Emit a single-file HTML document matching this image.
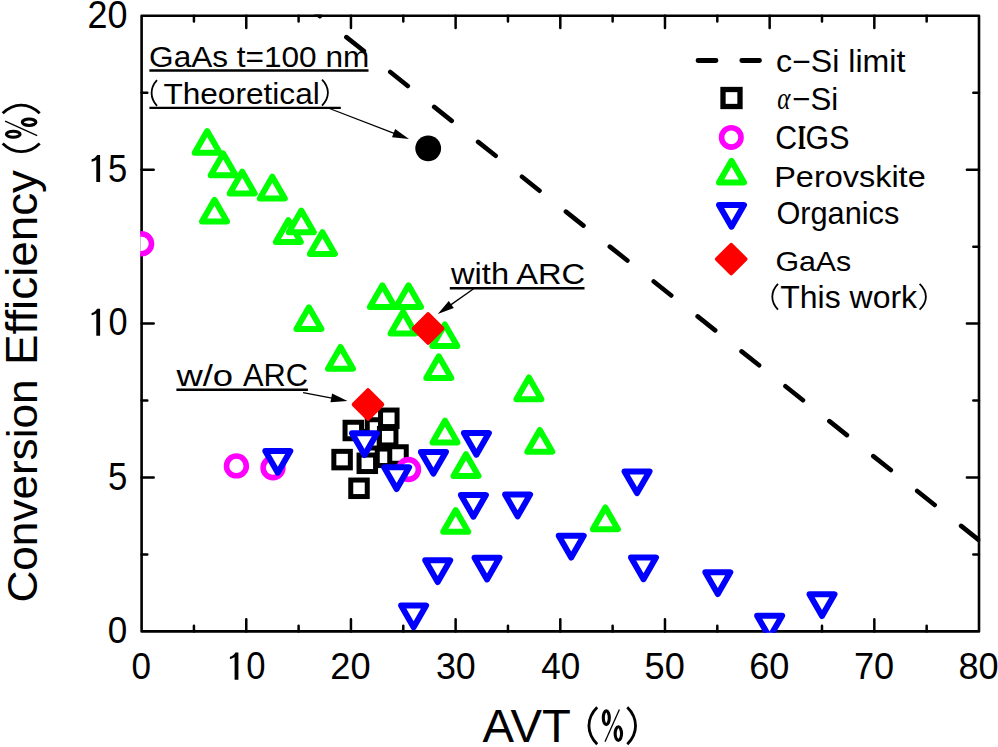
<!DOCTYPE html><html><head><meta charset="utf-8"><style>html,body{margin:0;padding:0;background:#fff;}svg{display:block}text{font-family:"Liberation Sans",sans-serif;fill:#000}</style></head><body>
<svg width="998" height="747" viewBox="0 0 998 747">
<defs><clipPath id="pc"><rect x="140.3" y="14.5" width="840" height="618.2"/></clipPath></defs>
<rect x="141.6" y="15.8" width="837.40" height="615.60" fill="none" stroke="#000" stroke-width="2.6" stroke-linejoin="round"/>
<path d="M193.94 631.4V625.70M193.94 15.8V21.50M246.27 631.4V619.30M246.27 15.8V27.90M298.61 631.4V625.70M298.61 15.8V21.50M350.95 631.4V619.30M350.95 15.8V27.90M403.29 631.4V625.70M403.29 15.8V21.50M455.62 631.4V619.30M455.62 15.8V27.90M507.96 631.4V625.70M507.96 15.8V21.50M560.30 631.4V619.30M560.30 15.8V27.90M612.64 631.4V625.70M612.64 15.8V21.50M664.98 631.4V619.30M664.98 15.8V27.90M717.31 631.4V625.70M717.31 15.8V21.50M769.65 631.4V619.30M769.65 15.8V27.90M821.99 631.4V625.70M821.99 15.8V21.50M874.33 631.4V619.30M874.33 15.8V27.90M926.66 631.4V625.70M926.66 15.8V21.50M141.6 554.45H147.30M979.0 554.45H973.30M141.6 477.50H153.70M979.0 477.50H966.90M141.6 400.55H147.30M979.0 400.55H973.30M141.6 323.60H153.70M979.0 323.60H966.90M141.6 246.65H147.30M979.0 246.65H973.30M141.6 169.70H153.70M979.0 169.70H966.90M141.6 92.75H147.30M979.0 92.75H973.30" stroke="#000" stroke-width="2.5" stroke-linecap="round" fill="none"/>
<g clip-path="url(#pc)"><path d="M258.55 -32.75L1000.00 556.85" stroke="#000" stroke-width="4.6" stroke-linecap="round" stroke-dasharray="22.40 33.70" fill="none"/></g>
<g clip-path="url(#pc)">
<rect x="362.75" y="431.50" width="16.5" height="16.5" fill="#fff" stroke="#000" stroke-width="5.0"/>
<rect x="377.25" y="449.05" width="16.5" height="16.5" fill="#fff" stroke="#000" stroke-width="5.0"/>
<rect x="367.25" y="419.75" width="16.5" height="16.5" fill="#fff" stroke="#000" stroke-width="5.0"/>
<rect x="345.05" y="422.25" width="16.5" height="16.5" fill="#fff" stroke="#000" stroke-width="5.0"/>
<rect x="380.55" y="410.05" width="16.5" height="16.5" fill="#fff" stroke="#000" stroke-width="5.0"/>
<rect x="379.45" y="428.45" width="16.5" height="16.5" fill="#fff" stroke="#000" stroke-width="5.0"/>
<rect x="389.75" y="446.75" width="16.5" height="16.5" fill="#fff" stroke="#000" stroke-width="5.0"/>
<rect x="333.85" y="451.35" width="16.5" height="16.5" fill="#fff" stroke="#000" stroke-width="5.0"/>
<rect x="359.05" y="455.05" width="16.5" height="16.5" fill="#fff" stroke="#000" stroke-width="5.0"/>
<rect x="350.75" y="480.05" width="16.5" height="16.5" fill="#fff" stroke="#000" stroke-width="5.0"/>
<circle cx="141.60" cy="243.80" r="9.9" fill="#fff" stroke="#ff00ff" stroke-width="5.6"/>
<circle cx="236.40" cy="465.90" r="9.9" fill="#fff" stroke="#ff00ff" stroke-width="5.6"/>
<circle cx="273.00" cy="467.70" r="9.9" fill="#fff" stroke="#ff00ff" stroke-width="5.6"/>
<circle cx="408.50" cy="469.50" r="9.9" fill="#fff" stroke="#ff00ff" stroke-width="5.6"/>
<path d="M207.20 131.10L219.70 152.80L194.70 152.80Z" fill="#fff" stroke="#00ff00" stroke-width="6.0" stroke-linejoin="round"/>
<path d="M223.20 153.50L235.70 175.20L210.70 175.20Z" fill="#fff" stroke="#00ff00" stroke-width="6.0" stroke-linejoin="round"/>
<path d="M242.20 171.70L254.70 193.40L229.70 193.40Z" fill="#fff" stroke="#00ff00" stroke-width="6.0" stroke-linejoin="round"/>
<path d="M272.30 176.70L284.80 198.40L259.80 198.40Z" fill="#fff" stroke="#00ff00" stroke-width="6.0" stroke-linejoin="round"/>
<path d="M214.50 199.80L227.00 221.50L202.00 221.50Z" fill="#fff" stroke="#00ff00" stroke-width="6.0" stroke-linejoin="round"/>
<path d="M288.30 220.20L300.80 241.90L275.80 241.90Z" fill="#fff" stroke="#00ff00" stroke-width="6.0" stroke-linejoin="round"/>
<path d="M301.30 210.60L313.80 232.30L288.80 232.30Z" fill="#fff" stroke="#00ff00" stroke-width="6.0" stroke-linejoin="round"/>
<path d="M322.40 232.20L334.90 253.90L309.90 253.90Z" fill="#fff" stroke="#00ff00" stroke-width="6.0" stroke-linejoin="round"/>
<path d="M308.90 307.30L321.40 329.00L296.40 329.00Z" fill="#fff" stroke="#00ff00" stroke-width="6.0" stroke-linejoin="round"/>
<path d="M340.50 347.00L353.00 368.70L328.00 368.70Z" fill="#fff" stroke="#00ff00" stroke-width="6.0" stroke-linejoin="round"/>
<path d="M382.40 285.30L394.90 307.00L369.90 307.00Z" fill="#fff" stroke="#00ff00" stroke-width="6.0" stroke-linejoin="round"/>
<path d="M408.50 285.30L421.00 307.00L396.00 307.00Z" fill="#fff" stroke="#00ff00" stroke-width="6.0" stroke-linejoin="round"/>
<path d="M403.10 311.80L415.60 333.50L390.60 333.50Z" fill="#fff" stroke="#00ff00" stroke-width="6.0" stroke-linejoin="round"/>
<path d="M444.80 324.40L457.30 346.10L432.30 346.10Z" fill="#fff" stroke="#00ff00" stroke-width="6.0" stroke-linejoin="round"/>
<path d="M438.80 356.30L451.30 378.00L426.30 378.00Z" fill="#fff" stroke="#00ff00" stroke-width="6.0" stroke-linejoin="round"/>
<path d="M445.00 420.70L457.50 442.40L432.50 442.40Z" fill="#fff" stroke="#00ff00" stroke-width="6.0" stroke-linejoin="round"/>
<path d="M466.00 454.20L478.50 475.90L453.50 475.90Z" fill="#fff" stroke="#00ff00" stroke-width="6.0" stroke-linejoin="round"/>
<path d="M455.70 510.10L468.20 531.80L443.20 531.80Z" fill="#fff" stroke="#00ff00" stroke-width="6.0" stroke-linejoin="round"/>
<path d="M528.90 377.50L541.40 399.20L516.40 399.20Z" fill="#fff" stroke="#00ff00" stroke-width="6.0" stroke-linejoin="round"/>
<path d="M539.80 430.00L552.30 451.70L527.30 451.70Z" fill="#fff" stroke="#00ff00" stroke-width="6.0" stroke-linejoin="round"/>
<path d="M605.40 507.50L617.90 529.20L592.90 529.20Z" fill="#fff" stroke="#00ff00" stroke-width="6.0" stroke-linejoin="round"/>
<path d="M277.80 472.70L290.30 451.00L265.30 451.00Z" fill="#fff" stroke="#0000ff" stroke-width="6.0" stroke-linejoin="round"/>
<path d="M364.50 455.00L377.00 433.30L352.00 433.30Z" fill="#fff" stroke="#0000ff" stroke-width="6.0" stroke-linejoin="round"/>
<path d="M396.60 489.00L409.10 467.30L384.10 467.30Z" fill="#fff" stroke="#0000ff" stroke-width="6.0" stroke-linejoin="round"/>
<path d="M433.40 473.60L445.90 451.90L420.90 451.90Z" fill="#fff" stroke="#0000ff" stroke-width="6.0" stroke-linejoin="round"/>
<path d="M476.40 454.70L488.90 433.00L463.90 433.00Z" fill="#fff" stroke="#0000ff" stroke-width="6.0" stroke-linejoin="round"/>
<path d="M473.40 516.70L485.90 495.00L460.90 495.00Z" fill="#fff" stroke="#0000ff" stroke-width="6.0" stroke-linejoin="round"/>
<path d="M517.60 516.30L530.10 494.60L505.10 494.60Z" fill="#fff" stroke="#0000ff" stroke-width="6.0" stroke-linejoin="round"/>
<path d="M437.70 582.00L450.20 560.30L425.20 560.30Z" fill="#fff" stroke="#0000ff" stroke-width="6.0" stroke-linejoin="round"/>
<path d="M487.00 579.40L499.50 557.70L474.50 557.70Z" fill="#fff" stroke="#0000ff" stroke-width="6.0" stroke-linejoin="round"/>
<path d="M413.60 627.20L426.10 605.50L401.10 605.50Z" fill="#fff" stroke="#0000ff" stroke-width="6.0" stroke-linejoin="round"/>
<path d="M571.20 557.50L583.70 535.80L558.70 535.80Z" fill="#fff" stroke="#0000ff" stroke-width="6.0" stroke-linejoin="round"/>
<path d="M637.00 493.10L649.50 471.40L624.50 471.40Z" fill="#fff" stroke="#0000ff" stroke-width="6.0" stroke-linejoin="round"/>
<path d="M643.50 579.20L656.00 557.50L631.00 557.50Z" fill="#fff" stroke="#0000ff" stroke-width="6.0" stroke-linejoin="round"/>
<path d="M717.80 594.00L730.30 572.30L705.30 572.30Z" fill="#fff" stroke="#0000ff" stroke-width="6.0" stroke-linejoin="round"/>
<path d="M769.60 637.40L782.10 615.70L757.10 615.70Z" fill="#fff" stroke="#0000ff" stroke-width="6.0" stroke-linejoin="round"/>
<path d="M822.00 616.00L834.50 594.30L809.50 594.30Z" fill="#fff" stroke="#0000ff" stroke-width="6.0" stroke-linejoin="round"/>
<path d="M368.00 390.20L382.30 404.50L368.00 418.80L353.70 404.50Z" fill="#ff0000" stroke="#ff0000" stroke-width="4" stroke-linejoin="round"/>
<path d="M428.10 314.20L442.40 328.50L428.10 342.80L413.80 328.50Z" fill="#ff0000" stroke="#ff0000" stroke-width="4" stroke-linejoin="round"/>
<circle cx="428.2" cy="148.3" r="12.9" fill="#000"/>
</g>
<path d="M329.50 108.50L395.46 133.81" stroke="#000" stroke-width="1.3" fill="none"/><path d="M409.00 139.00L392.02 137.20L395.17 128.98Z" fill="#000"/>
<path d="M473.30 289.00L449.66 305.65" stroke="#000" stroke-width="1.3" fill="none"/><path d="M437.80 314.00L448.76 300.90L453.82 308.10Z" fill="#000"/>
<path d="M303.10 392.60L333.25 398.30" stroke="#000" stroke-width="1.3" fill="none"/><path d="M347.50 401.00L330.47 402.26L332.11 393.61Z" fill="#000"/>
<path d="M149.4 70.5H368.5M149.4 107.9H340.8M449.8 288.2H584.5M176.4 389.7H307.9" stroke="#000" stroke-width="2.4" fill="none"/>
<text id="y20" x="87.60" y="27.62" font-size="38.17" textLength="40.00" lengthAdjust="spacingAndGlyphs">20</text>
<text id="y15" x="108.10" y="181.82" font-size="38.17" textLength="19.20" lengthAdjust="spacingAndGlyphs">5</text>
<text id="y10" x="108.50" y="335.42" font-size="38.17" textLength="19.10" lengthAdjust="spacingAndGlyphs">0</text>
<text id="y5" x="108.00" y="489.52" font-size="38.17" textLength="19.30" lengthAdjust="spacingAndGlyphs">5</text>
<text id="y0" x="107.80" y="642.83" font-size="36.90" textLength="19.50" lengthAdjust="spacingAndGlyphs">0</text>
<text id="x0" x="131.60" y="679.33" font-size="37.32" textLength="19.50" lengthAdjust="spacingAndGlyphs">0</text>
<text id="x10" x="246.30" y="679.32" font-size="38.03" textLength="19.30" lengthAdjust="spacingAndGlyphs">0</text>
<text id="x20" x="330.30" y="679.32" font-size="37.61" textLength="40.30" lengthAdjust="spacingAndGlyphs">20</text>
<text id="x30" x="435.90" y="679.32" font-size="37.61" textLength="39.90" lengthAdjust="spacingAndGlyphs">30</text>
<text id="x40" x="541.20" y="679.33" font-size="37.32" textLength="39.00" lengthAdjust="spacingAndGlyphs">40</text>
<text id="x50" x="644.60" y="679.33" font-size="37.32" textLength="40.20" lengthAdjust="spacingAndGlyphs">50</text>
<text id="x60" x="749.20" y="679.33" font-size="37.32" textLength="40.20" lengthAdjust="spacingAndGlyphs">60</text>
<text id="x70" x="853.90" y="679.33" font-size="37.32" textLength="40.20" lengthAdjust="spacingAndGlyphs">70</text>
<text id="x80" x="958.50" y="679.33" font-size="37.32" textLength="40.20" lengthAdjust="spacingAndGlyphs">80</text>
<text id="avt" x="482.40" y="741.80" font-size="46.52" textLength="88.40" lengthAdjust="spacingAndGlyphs">AVT</text>
<text id="gaas1" x="149.10" y="66.50" font-size="29.36" textLength="220.20" lengthAdjust="spacingAndGlyphs">GaAs t=100 nm</text>
<text id="theo" x="163.40" y="103.70" font-size="28.88" textLength="156.40" lengthAdjust="spacingAndGlyphs">Theoretical</text>
<text id="warc" x="451.00" y="283.90" font-size="29.38" textLength="134.20" lengthAdjust="spacingAndGlyphs">with ARC</text>
<text id="woarc1" x="176.40" y="386.10" font-size="29.80" textLength="56.70" lengthAdjust="spacingAndGlyphs">w/o</text>
<text id="woarc2" x="243.00" y="386.10" font-size="30.72" textLength="65.10" lengthAdjust="spacingAndGlyphs">ARC</text>
<text id="l1" x="776.00" y="72.29" font-size="31.41" textLength="129.40" lengthAdjust="spacingAndGlyphs">c&#8722;Si limit</text>
<text id="l2" x="792.30" y="110.20" font-size="32.00" textLength="46.00" lengthAdjust="spacingAndGlyphs">&#8722;Si</text>
<text id="l2a" style="font-family:'Liberation Serif';font-style:italic" x="777.20" y="109.38" font-size="32.08" textLength="13.10" lengthAdjust="spacingAndGlyphs">&#945;</text>
<text id="l3" x="775.20" y="148.98" font-size="32.39" textLength="74.20" lengthAdjust="spacingAndGlyphs">CIGS</text>
<text id="l4" x="774.20" y="186.55" font-size="30.36" textLength="151.50" lengthAdjust="spacingAndGlyphs">Perovskite</text>
<text id="l5" x="776.40" y="223.58" font-size="30.94" textLength="122.90" lengthAdjust="spacingAndGlyphs">Organics</text>
<text id="l6" x="775.40" y="271.10" font-size="27.97" textLength="75.90" lengthAdjust="spacingAndGlyphs">GaAs</text>
<text id="l7" x="780.30" y="308.30" font-size="31.44" textLength="136.80" lengthAdjust="spacingAndGlyphs">This work</text>
<text id="ce1" x="-2.40" y="0" font-size="42.57" textLength="223.00" lengthAdjust="spacingAndGlyphs" transform="translate(36.84,600.10) rotate(-90)">Conversion</text>
<text id="ce2" x="-3.80" y="0" font-size="43.49" textLength="195.00" lengthAdjust="spacingAndGlyphs" transform="translate(36.84,361.20) rotate(-90)">Efficiency</text>
<g id="pct" fill="none" stroke="#000"><path d="M597.2 707.2C586.2 718.2 586.2 733.2 597.2 744.2M627.3 707.2C638.3 718.2 638.3 733.2 627.3 744.2" stroke-width="2.8"/><ellipse cx="606.3" cy="717.75" rx="3.0" ry="6.85" stroke-width="3.1"/><ellipse cx="618.35" cy="733.6" rx="3.2" ry="6.8" stroke-width="3.1"/><path d="M619.4 709.6L605 741.7" stroke-width="1.3"/></g>
<use href="#pct" transform="translate(-704.5,740.6) rotate(-90)"/>
<path d="M157.00 80.20C149.80 87.91 149.80 98.19 157.00 105.90M322.00 79.60C329.87 87.40 329.87 97.80 322.00 105.60M778.00 283.90C770.40 291.61 770.40 301.89 778.00 309.60M919.60 283.90C928.00 291.64 928.00 301.96 919.60 309.70" stroke="#000" stroke-width="1.8" fill="none"/>
<path d="M100.10 155.10L100.10 181.90L96.30 181.90L96.30 159.70C95.10 160.70 93.30 161.40 91.60 161.70L91.60 159.30C94.10 158.90 95.90 157.50 97.10 155.10ZM100.10 308.70L100.10 335.80L96.30 335.80L96.30 313.30C95.10 314.30 93.30 315.00 91.60 315.30L91.60 312.90C94.10 312.50 95.90 311.10 97.10 308.70ZM238.40 652.50L238.40 679.70L234.60 679.70L234.60 657.10C233.40 658.10 231.60 658.80 229.90 659.10L229.90 656.70C232.40 656.30 234.20 654.90 235.40 652.50Z" fill="#000"/>
<path d="M798.7 126.2h6.6v2.0h-6.6zM798.7 147.0h6.6v2.0h-6.6zM800.4 126.2h3.0v22.8h-3.0z" fill="#000"/>
<path d="M698 60.5H716M741.8 60.5H759.5" stroke="#000" stroke-width="4.8" stroke-linecap="round"/>
<rect x="723.00" y="89.50" width="17" height="17" fill="#fff" stroke="#000" stroke-width="5.3"/>
<circle cx="731.30" cy="137.40" r="9.7" fill="#fff" stroke="#ff00ff" stroke-width="5.6"/>
<path d="M731.50 160.80L744.00 182.50L719.00 182.50Z" fill="#fff" stroke="#00ff00" stroke-width="6.0" stroke-linejoin="round"/>
<path d="M731.50 226.70L744.00 205.00L719.00 205.00Z" fill="#fff" stroke="#0000ff" stroke-width="6.0" stroke-linejoin="round"/>
<path d="M731.20 244.80L745.50 259.10L731.20 273.40L716.90 259.10Z" fill="#ff0000" stroke="#ff0000" stroke-width="4" stroke-linejoin="round"/>
</svg></body></html>
